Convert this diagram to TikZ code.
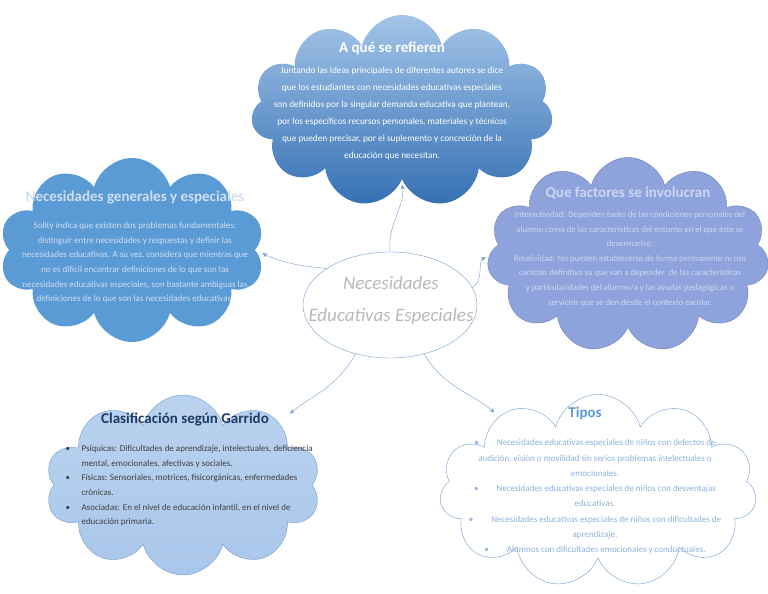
\documentclass[tikz,border=0pt]{standalone}
\usepackage{fontspec}
\setmainfont{Carlito}
\usetikzlibrary{shapes.symbols,shapes.geometric,arrows.meta}
\definecolor{skylight}{HTML}{A3C4E8}
\definecolor{skydeep}{HTML}{3570B4}
\definecolor{midblue}{HTML}{5B9BD5}
\definecolor{lavblue}{HTML}{8EA3DC}
\definecolor{paleblue}{HTML}{A9C7EB}
\definecolor{navy}{HTML}{1F3A64}
\definecolor{linkblue}{HTML}{6F9DD2}
\definecolor{softtext}{HTML}{D0DEF2}
\definecolor{lavtext}{HTML}{CDD5F2}
\definecolor{tiptext}{HTML}{8DB2DD}

\tikzset{
	puff/.style={cloud, cloud puffs=10, cloud ignores aspect, inner sep=0pt},
	heading/.style={font=\bfseries\fontsize{15}{18}\selectfont},
	body/.style={font=\fontsize{9}{14.6}\selectfont, align=center},
	conn/.style={-{Stealth[length=5pt,width=4pt]}, draw=linkblue, thin},
}

\begin{document}
\begin{tikzpicture}[x=1pt,y=-1pt]
	\useasboundingbox (0,0) rectangle (768,594);
	% clouds
	\node[puff, cloud puffs=11, top color=skylight, bottom color=skydeep, minimum width=302, minimum height=192] (refer) at (402,111) {};
	\node[puff, fill=midblue, minimum width=265, minimum height=184] (general) at (132,250) {};
	\node[puff, cloud puffs=11, fill=lavblue, draw=lavblue!80!black, minimum width=282, minimum height=195] (factors) at (628,255) {};
	\node[puff, top color=paleblue!80!white, bottom color=paleblue, draw=linkblue, minimum width=275, minimum height=180] (garrido) at (183,485) {};
	\node[puff, cloud puffs=11, fill=white, draw=linkblue, minimum width=317, minimum height=193] (types) at (598,491) {};
	\node[ellipse, draw=linkblue, fill=white, minimum width=174, minimum height=106] (core) at (390,305) {};

	% texts
	\node[heading, white] at (392,48) {A qué se refieren};
	\node[body, white, font=\fontsize{9.3}{17}\selectfont, anchor=north] at (392,64) {Juntando las ideas principales de diferentes autores se dice\\
		que los estudiantes con necesidades educativas especiales\\
		son definidos por la singular demanda educativa que plantean,\\
		por los específicos recursos personales, materiales y técnicos\\
		que pueden precisar, por el suplemento y concreción de la\\
		educación que necesitan.};

	\node[heading, softtext] at (135,198) {Necesidades generales y especiales};
	\node[body, softtext, anchor=north] at (135,219) {Solity indica que existen dos problemas fundamentales:\\
		distinguir entre necesidades y respuestas y definir las\\
		necesidades educativas. A su vez, considera que mientras que\\
		no es difícil encontrar definiciones de lo que son las\\
		necesidades educativas especiales, son bastante ambiguas las\\
		definiciones de lo que son las necesidades educativas.};

	\node[heading, lavtext] at (628,193) {Que factores se involucran};
	\node[body, lavtext, font=\fontsize{8.7}{14.6}\selectfont, anchor=north] at (630,208) {Interactividad: Dependen tanto de las condiciones personales del\\
		alumno como de las características del entorno en el que éste se\\
		desenvuelve.\\
		Relatividad: No pueden establecerse de forma permanente ni con\\
		carácter definitivo ya que van a depender\ \ de las características\\
		y particularidades del alumno/a y las ayudas pedagógicas o\\
		servicios que se den desde el contexto escolar.};

	\node[font=\itshape\fontsize{19}{32}\selectfont, text=gray!55, align=center] (coretext) at (391,300) {Necesidades\\Educativas Especiales};

	\node[heading, navy] at (185,419) {Clasificación según Garrido};
	\node[body, text=black!75, align=left, anchor=north west] at (62,442) {\makebox[16pt][l]{\textbullet}Psíquicas: Dificultades de aprendizaje, intelectuales, deficiencia\\
		\hspace*{16pt}mental, emocionales, afectivas y sociales.\\
		\makebox[16pt][l]{\textbullet}Físicas: Sensoriales, motrices, fisicorgánicas, enfermedades\\
		\hspace*{16pt}crónicas.\\
		\makebox[16pt][l]{\textbullet}Asociadas: En el nivel de educación infantil, en el nivel de\\
		\hspace*{16pt}educación primaria.};

	\node[heading, midblue] at (585,413) {Tipos};
	\node[body, tiptext, anchor=north, font=\fontsize{9}{15.3}\selectfont] at (595,436) {\textbullet\qquad Necesidades educativas especiales de niños con defectos de\\
		audición, visión o movilidad sin serios problemas intelectuales o\\
		emocionales.\\
		\textbullet\qquad Necesidades educativas especiales de niños con desventajas\\
		educativas.\\
		\textbullet\qquad Necesidades educativas especiales de niños con dificultades de\\
		aprendizaje.\\
		\textbullet\qquad Alumnos con dificultades emocionales y conductuales.};

	% connectors
	\draw[conn, shorten >=5pt] (core.north) to[out=95, in=-85] (refer.south);
	\draw[conn, shorten >=8pt] (core.150) to[out=175, in=-25] (general.east);
	\draw[conn, shorten >=4pt] (core.12) to[out=30, in=-150] (factors.west);
	\draw[conn, shorten >=14pt] (core.235) to[out=-120, in=40] (garrido.33);
	\draw[conn, shorten >=6pt] (core.-55) to[out=-60, in=140] (types.143);
\end{tikzpicture}
\end{document}
